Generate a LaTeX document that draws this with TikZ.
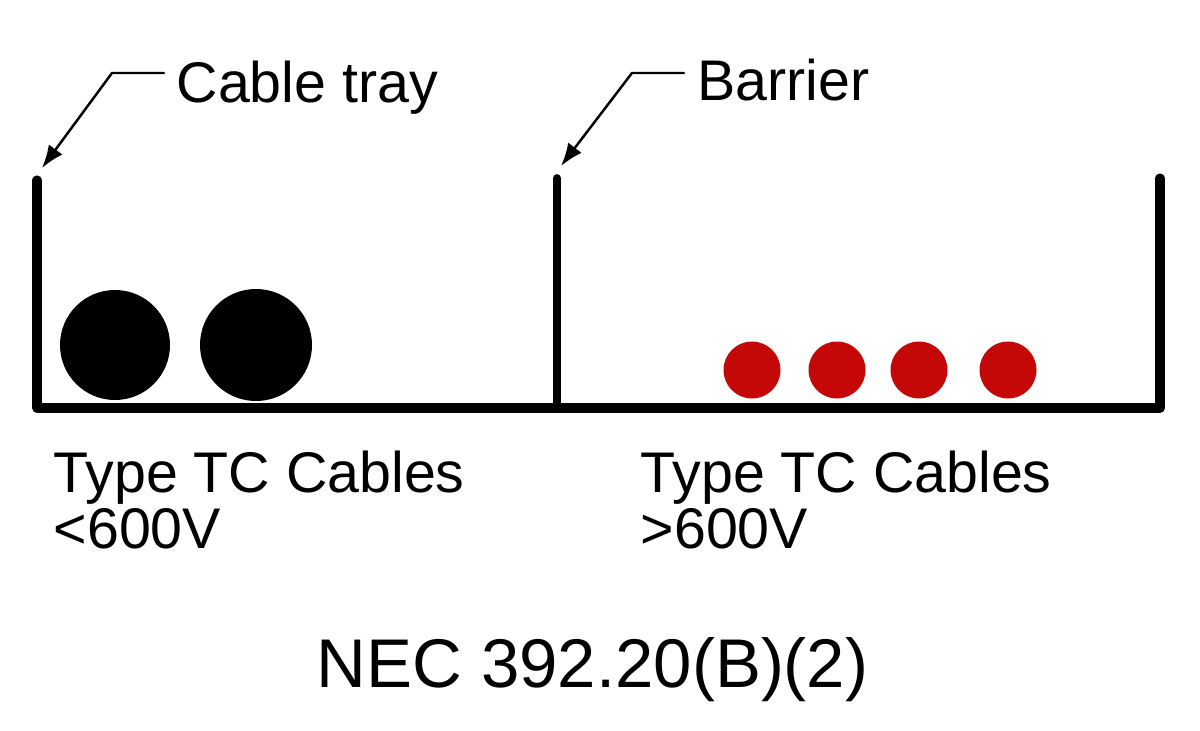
\documentclass[tikz,border=0pt]{standalone}
\usepackage{fontspec}
\setmainfont{Liberation Sans}
\usetikzlibrary{arrows.meta}
\definecolor{cablered}{RGB}{196,8,8}
\tikzset{
  wall/.style={line width=2.6pt,line cap=round,line join=round},
  leader/.style={line width=0.7pt,->},
  lbl/.style={anchor=base west,inner sep=0pt,font=\fontsize{16.3pt}{16pt}\selectfont},
}
\begin{document}
\begin{tikzpicture}[x=0.01cm,y=-0.01cm,cap=round,>={Latex[length=6.5pt,width=4.8pt]}]
            \useasboundingbox (0,0) rectangle (1200,730);

            % draw the tray
            \draw[wall] (37,180) -- (37,408) -- (1160,408) -- (1160,178);
            % barrier
            \draw[wall,line width=2.2pt] (557,178) -- (557,408);

            % cables below 600V
            \fill[black] (115,345) circle(55);
            \fill[black] (256,345) circle(56);

            % cables above 600V
            \foreach \cx in {752,837,919,1008}
                \fill[cablered] (\cx,370) circle(28.5);

            % text at the top
            \node[lbl] (traylbl) at (176,102) {Cable tray};
            \node[lbl] (barrierlbl) at (697,100) {Barrier};
            \coordinate (traytip) at (42,168);
            \coordinate (barriertip) at (561,166);
            \draw[leader] (traylbl.west |- 0,73) ++(-12,0) -- ++(-52,0) -- (traytip);
            \draw[leader] (barrierlbl.west |- 0,73) ++(-13,0) -- ++(-52,0) -- (barriertip);

            % text below the tray
            \node[lbl] (lowlbl) at (53,492) {Type TC Cables};
            \node[lbl] (lowv) at (53,548) {<600V};
            \node[lbl] (highlbl) at (640,492) {Type TC Cables};
            \node[lbl] (highv) at (640,548) {>600V};

            % the rule
            \node[lbl,font=\fontsize{19.6pt}{20pt}\selectfont] (rule) at (316,687) {NEC 392.20(B)(2)};
        \end{tikzpicture}
\end{document}
